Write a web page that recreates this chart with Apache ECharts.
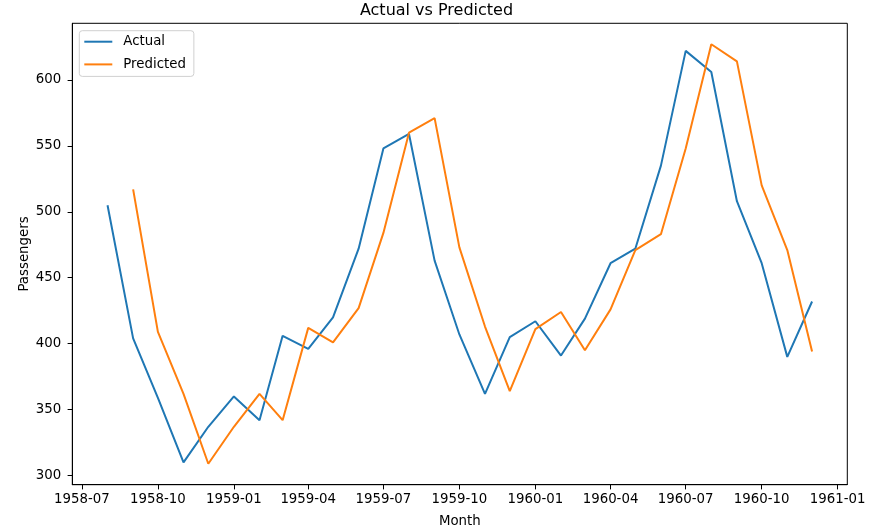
<!DOCTYPE html>
<html>
<head>
<meta charset="utf-8">
<script src="https://cdn.jsdelivr.net/npm/echarts@6/dist/echarts.min.js"></script>
<style>html,body{margin:0;padding:0;background:#fff}#c{width:873px;height:531px}</style>
</head>
<body>
<div id="c"></div>
<script>
const actualMonths = ['1958-08','1958-09','1958-10','1958-11','1958-12','1959-01','1959-02','1959-03','1959-04','1959-05','1959-06','1959-07','1959-08','1959-09','1959-10','1959-11','1959-12','1960-01','1960-02','1960-03','1960-04','1960-05','1960-06','1960-07','1960-08','1960-09','1960-10','1960-11','1960-12'];
const actualValues = [505,404,359,310,337,360,342,406,396,420,472,548,559,463,407,362,405,417,391,419,461,472,535,622,606,508,461,390,432];
const predictedMonths = ['1958-09','1958-10','1958-11','1958-12','1959-01','1959-02','1959-03','1959-04','1959-05','1959-06','1959-07','1959-08','1959-09','1959-10','1959-11','1959-12','1960-01','1960-02','1960-03','1960-04','1960-05','1960-06','1960-07','1960-08','1960-09','1960-10','1960-11','1960-12'];
const predictedValues = [517,409,362,309,337,362,342,412,401,427,484,560,571,473,413,364,411,424,395,426,471,483,548,627,614,520,471,394];
const xTickLabels = ['1958-07','1958-10','1959-01','1959-04','1959-07','1959-10','1960-01','1960-04','1960-07','1960-10','1961-01'];
const yTicks = [300,350,400,450,500,550,600];

function ts(s){const p=s.split('-');return Date.UTC(+p[0],+p[1]-1,1);}
const xTickTs = xTickLabels.map(ts);
const allX = actualMonths.concat(predictedMonths).map(ts);
const xmin0 = Math.min(...allX), xmax0 = Math.max(...allX);
const xm = (xmax0-xmin0)*0.05;
const allY = actualValues.concat(predictedValues);
const ymin0 = Math.min(...allY), ymax0 = Math.max(...allY);
const ym = (ymax0-ymin0)*0.05;

const font = 'DejaVu Sans';
const fs = 13.33;
const chart = echarts.init(document.getElementById('c'));
chart.setOption({
  animation:false,
  backgroundColor:'#fff',
  textStyle:{fontFamily:font},
  title:{text:'Actual vs Predicted',left:'center',top:3,padding:0,textStyle:{fontFamily:font,fontSize:16,fontWeight:'normal',color:'#000'}},
  grid:{left:72.3,right:25.7,top:23.3,bottom:46.3,outerBoundsMode:'none',containLabel:false,show:true,borderColor:'#000',borderWidth:1,backgroundColor:'transparent'},
  legend:{
    left:79.3,top:30.7,orient:'vertical',
    data:['Actual','Predicted'],
    icon:'rect',itemWidth:28,itemHeight:2,itemGap:8.7,
    borderColor:'#d0d0d0',borderWidth:1,borderRadius:3,padding:[4,8,5,5],
    textStyle:{fontFamily:font,fontSize:fs,lineHeight:14,color:'#000',padding:[0,0,0,6]}
  },
  xAxis:{
    type:'value',min:xmin0-xm,max:xmax0+xm,
    name:'Month',nameLocation:'middle',nameGap:30,nameMoveOverlap:false,
    nameTextStyle:{fontFamily:font,fontSize:fs,color:'#000'},
    axisLine:{show:true,onZero:false,lineStyle:{color:'#000',width:1}},
    axisTick:{show:true,length:4.7,lineStyle:{color:'#000'},customValues:xTickTs},
    axisLabel:{color:'#000',fontSize:fs,fontFamily:font,margin:8,customValues:xTickTs,
      formatter:function(v){const d=new Date(v);const m=d.getUTCMonth()+1;return d.getUTCFullYear()+'-'+(m<10?'0'+m:m);}},
    splitLine:{show:false}
  },
  yAxis:{
    type:'value',min:ymin0-ym,max:ymax0+ym,
    name:'Passengers',nameLocation:'middle',nameGap:41,nameRotate:90,nameMoveOverlap:false,
    nameTextStyle:{fontFamily:font,fontSize:fs,color:'#000'},
    axisLine:{show:true,onZero:false,lineStyle:{color:'#000',width:1}},
    axisTick:{show:true,length:4.7,lineStyle:{color:'#000'},customValues:yTicks},
    axisLabel:{color:'#000',fontSize:fs,fontFamily:font,margin:11,customValues:yTicks},
    splitLine:{show:false}
  },
  series:[
    {name:'Actual',type:'line',data:actualMonths.map((m,i)=>[ts(m),actualValues[i]]),showSymbol:false,symbol:'none',lineStyle:{color:'#1f77b4',width:2},itemStyle:{color:'#1f77b4'}},
    {name:'Predicted',type:'line',data:predictedMonths.map((m,i)=>[ts(m),predictedValues[i]]),showSymbol:false,symbol:'none',lineStyle:{color:'#ff7f0e',width:2},itemStyle:{color:'#ff7f0e'}}
  ]
});
</script>
</body>
</html>
